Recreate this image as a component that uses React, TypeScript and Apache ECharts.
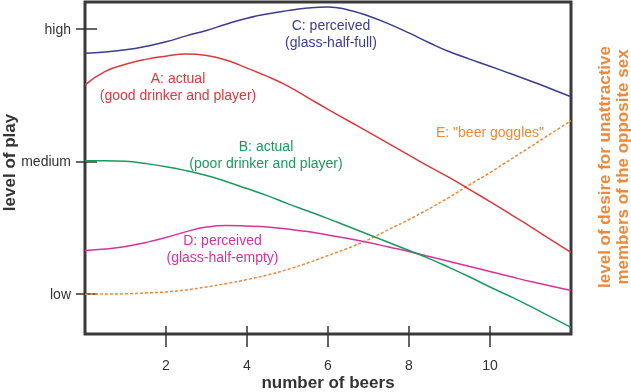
import React, { useEffect, useRef } from "react";
import * as echarts from "echarts";

const beers = [0, 0.5, 1, 1.5, 2, 2.5, 3, 3.5, 4, 4.5, 5, 5.5, 6, 6.5, 7, 7.5, 8, 8.5, 9, 9.5, 10, 10.5, 11, 11.5, 12];
const seriesA = [1.576, 1.678, 1.731, 1.768, 1.792, 1.808, 1.798, 1.761, 1.702, 1.64, 1.568, 1.48, 1.392, 1.306, 1.22, 1.133, 1.047, 0.96, 0.877, 0.787, 0.697, 0.603, 0.509, 0.411, 0.314];
const seriesB = [1.005, 1.005, 1.0, 0.983, 0.96, 0.93, 0.893, 0.847, 0.795, 0.742, 0.682, 0.626, 0.569, 0.509, 0.449, 0.389, 0.329, 0.268, 0.2, 0.129, 0.054, -0.017, -0.092, -0.171, -0.25];
const seriesC = [1.815, 1.823, 1.84, 1.866, 1.9, 1.945, 1.986, 2.035, 2.078, 2.11, 2.135, 2.155, 2.163, 2.14, 2.095, 2.035, 1.967, 1.893, 1.825, 1.77, 1.716, 1.661, 1.605, 1.547, 1.487];
const seriesD = [0.329, 0.34, 0.359, 0.389, 0.426, 0.471, 0.505, 0.517, 0.513, 0.505, 0.49, 0.471, 0.445, 0.419, 0.389, 0.355, 0.321, 0.283, 0.246, 0.208, 0.171, 0.133, 0.095, 0.062, 0.028];
const seriesE = [0, 0.001, 0.003, 0.009, 0.017, 0.032, 0.054, 0.08, 0.11, 0.144, 0.186, 0.235, 0.291, 0.347, 0.411, 0.487, 0.562, 0.644, 0.731, 0.825, 0.915, 1.013, 1.11, 1.208, 1.306];
const yTickValues = [0, 1, 2];
const yTickLabels = ["low", "medium", "high"];
const xTickValues = [2, 4, 6, 8, 10];

const FONT = "'Liberation Sans', Arial, sans-serif";
const COL_A = "#d93a3d";
const COL_B = "#1c9a5e";
const COL_C = "#3b3d8f";
const COL_D = "#d6339c";
const COL_E = "#ef8838";
const AXIS_COL = "#333";

export default function App() {
  const ref = useRef<HTMLDivElement>(null);
  useEffect(() => {
    const chart = echarts.init(ref.current!, null, { renderer: "svg" });
    const pairs = (vals: number[]) => beers.map((b, i) => [b, vals[i]]);
    const line = (name: string, vals: number[], color: string, dashed = false) => ({
      name,
      type: "line",
      xAxisIndex: 0,
      yAxisIndex: 0,
      data: pairs(vals),
      smooth: 0.5,
      showSymbol: false,
      symbol: "none",
      lineStyle: { color, width: 1.5, type: dashed ? [3, 2] : "solid" },
    });
    const label = (text: string, x: number, y: number, color: string) => ({
      type: "text",
      x,
      y,
      style: {
        text,
        fill: color,
        font: `14px ${FONT}`,
        align: "center",
        verticalAlign: "middle",
        lineHeight: 17,
      },
    });
    const gridRect = { left: 85, top: 2, width: 486, height: 332 };
    const tickStyle = { color: AXIS_COL, width: 1.5 };
    chart.setOption({
      animation: false,
      grid: [
        {
          ...gridRect,
          show: true,
          borderColor: "#3a3a3a",
          borderWidth: 3,
          backgroundColor: "transparent",
        },
        { ...gridRect, show: false },
      ],
      xAxis: [
        {
          type: "value",
          gridIndex: 0,
          min: 0,
          max: 12,
          axisLine: { show: false, onZero: false },
          splitLine: { show: false },
          axisTick: { show: true, length: 13, customValues: xTickValues, lineStyle: tickStyle },
          axisLabel: {
            customValues: xTickValues,
            margin: 24,
            fontSize: 14,
            color: AXIS_COL,
            fontFamily: FONT,
          },
        },
        {
          type: "value",
          gridIndex: 1,
          min: 0,
          max: 12,
          axisLine: { show: false, onZero: false },
          splitLine: { show: false },
          axisLabel: { show: false },
          axisTick: { show: true, inside: true, length: 8, customValues: xTickValues, lineStyle: tickStyle },
        },
      ],
      yAxis: [
        {
          type: "value",
          gridIndex: 0,
          min: -0.3,
          max: 2.2,
          axisLine: { show: false, onZero: false },
          splitLine: { show: false },
          axisTick: { show: true, length: 9, customValues: yTickValues, lineStyle: tickStyle },
          axisLabel: {
            customValues: yTickValues,
            margin: 14,
            fontSize: 14,
            color: AXIS_COL,
            fontFamily: FONT,
            formatter: (v: number) => yTickLabels[Math.round(v)] ?? "",
          },
        },
        {
          type: "value",
          gridIndex: 1,
          min: -0.3,
          max: 2.2,
          axisLine: { show: false, onZero: false },
          splitLine: { show: false },
          axisLabel: { show: false },
          axisTick: { show: true, inside: true, length: 12, customValues: yTickValues, lineStyle: tickStyle },
        },
      ],
      series: [
        line("E", seriesE, COL_E, true),
        line("D", seriesD, COL_D),
        line("B", seriesB, COL_B),
        line("A", seriesA, COL_A),
        line("C", seriesC, COL_C),
      ],
      graphic: [
        label("C: perceived\n(glass-half-full)", 331, 33, COL_C),
        label("A: actual\n(good drinker and player)", 178, 86.5, COL_A),
        label("B: actual\n(poor drinker and player)", 266, 154, COL_B),
        label("D: perceived\n(glass-half-empty)", 222.5, 248, COL_D),
        label('E: "beer goggles"', 490, 131.7, COL_E),
        {
          type: "text",
          x: 328,
          y: 382.5,
          style: {
            text: "number of beers",
            fill: AXIS_COL,
            font: `bold 17px ${FONT}`,
            align: "center",
            verticalAlign: "middle",
          },
        },
        {
          type: "text",
          x: 9,
          y: 162.5,
          rotation: Math.PI / 2,
          style: {
            text: "level of play",
            fill: AXIS_COL,
            font: `bold 17px ${FONT}`,
            align: "center",
            verticalAlign: "middle",
          },
        },
        {
          type: "text",
          x: 613.5,
          y: 167,
          rotation: Math.PI / 2,
          style: {
            text: "level of desire for unattractive\nmembers of the opposite sex",
            fill: COL_E,
            font: `bold 17px ${FONT}`,
            align: "center",
            verticalAlign: "middle",
            lineHeight: 18,
          },
        },
      ],
    });
    return () => chart.dispose();
  }, []);
  return (
    <div
      ref={ref}
      style={{ position: "fixed", left: 0, top: 0, width: 631, height: 392 }}
    />
  );
}
